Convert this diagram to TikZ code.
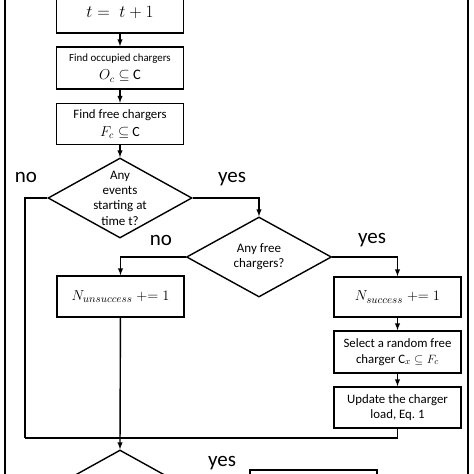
\documentclass[tikz,border=0pt]{standalone}
\usepackage{amsmath}
\usepackage{fontspec}
\setmainfont{Carlito}
\usetikzlibrary{shapes.geometric}
\tikzset{>=latex}

\begin{document}
\begin{tikzpicture}[x=1pt, y=-1pt, line width=1.4pt,
    box/.style={draw, minimum width=127pt, minimum height=41pt, inner sep=1pt, align=center, font=\fontsize{12.8}{15.5}\selectfont},
    decision/.style={draw, diamond, minimum width=144pt, minimum height=80pt, inner sep=0pt},
    dtext/.style={align=center, font=\fontsize{13}{15.3}\selectfont},
    choice/.style={anchor=base, inner sep=0pt, font=\fontsize{21}{21}\selectfont}]
	  \clip (0,0) rectangle (474,474);

	  % main column
	  \node (tinc) at (120,12) [box, minimum height=42pt] {\fontsize{17.5}{20}\selectfont $t =\; t + 1$};
	  \node (occ) at (120,68) [box, minimum height=42pt] {{\fontsize{10.9}{13}\selectfont Find occupied chargers}\\[3pt] {\fontsize{14.5}{16}\selectfont $O_c \subseteq$ C}};
	  \node (free) at (120,124) [box] {Find free chargers\\[2pt] {\fontsize{14}{15}\selectfont $F_c \subseteq$ C}};
	  \node (evt) at (120,198) [decision] {};
	  \node (evttext) at (120,198) [dtext] {Any\\events\\starting at\\time t?};
	  \node (anyfree) at (259,257) [decision, minimum width=145pt] {};
	  \node (anyfreetext) at (259,257) [dtext] {Any free\\chargers?};
	  \node (unsucc) at (120.5,296.5) [box] {\fontsize{15.5}{18}\selectfont $N_{unsuccess} \mathrel{{+}{=}} 1$};
	  \node (succ) at (397.5,297) [box, minimum height=40pt] {\fontsize{15.5}{18}\selectfont $N_{success} \mathrel{{+}{=}} 1$};
	  \node (sel) at (397.5,352) [box, minimum height=42pt] {Select a random free\\ charger C$_x \subseteq F_c$};
	  \node (upd) at (397.5,407.5) [box] {Update the charger\\ load, Eq.~1};
	  \node (done) at (120,490) [decision] {};
	  \node (nextbox) at (313.5,491) [box, minimum height=42pt] {};

	  % branch labels
	  \node (no1) at (26,182) [choice] {no};
	  \node (yes1) at (232,182) [choice] {yes};
	  \node (no2) at (161,245) [choice] {no};
	  \node (yes2) at (372,243) [choice] {yes};
	  \node (yes3) at (222,466) [choice] {yes};

	  % loop corners and frame
	  \coordinate (loopL) at (25,438);
	  \coordinate (frameLT) at (5,-5);
	  \coordinate (frameLB) at (5,480);
	  \coordinate (frameRT) at (468,-5);
	  \coordinate (frameRB) at (468,480);

	  \draw[->] (tinc) -- (occ);
	  \draw[->] (occ) -- (free);
	  \draw[->] (free) -- (evt.north);
	  \draw[->] (evt.east) -| (anyfree.north);
	  \draw (evt.west) -| (loopL);
	  \draw[->] (anyfree.west) -| (unsucc.north);
	  \draw[->] (anyfree.east) -| (succ.north);
	  \draw[->] (succ) -- (sel);
	  \draw[->] (sel) -- (upd);
	  \draw (upd.south) |- (loopL);
	  \draw[->] (unsucc) -- (done.north);
	  \draw[line width=1.2pt] (frameLT) -- (frameLB);
	  \draw[line width=1.2pt] (frameRT) -- (frameRB);
\end{tikzpicture}
\end{document}
